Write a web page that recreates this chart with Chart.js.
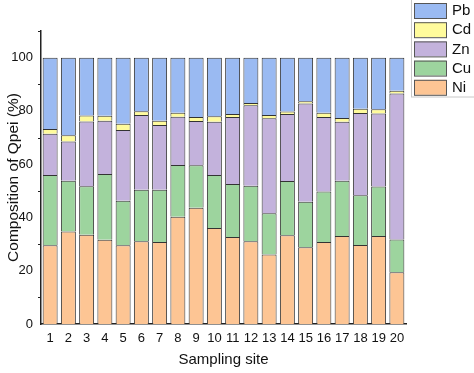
<!DOCTYPE html>
<html><head><meta charset="utf-8">
<script src="https://cdn.jsdelivr.net/npm/chart.js@4/dist/chart.umd.min.js"></script>
<style>html,body{margin:0;padding:0;background:#fff}#wrap{width:474px;height:373px;position:relative}</style>
</head><body><div id="wrap"><canvas id="c" width="474" height="373"></canvas></div>
<script>
const sites = ["1","2","3","4","5","6","7","8","9","10","11","12","13","14","15","16","17","18","19","20"];
const ni = [29.6,34.7,33.5,31.6,29.6,31.1,30.8,40.3,43.6,36.0,32.7,31.1,26.1,33.3,28.8,30.8,33.0,29.7,33.0,19.4];
const cu = [26.3,19.1,18.2,24.7,16.7,19.3,19.6,19.4,16.0,19.9,19.9,20.8,15.5,20.4,17.1,18.9,20.8,18.6,18.6,12.3];
const zn = [15.5,14.7,24.3,20.0,26.5,28.1,24.3,18.1,16.6,20.0,25.1,30.2,35.6,25.1,36.9,28.0,22.1,30.9,27.4,54.8];
const cd = [1.8,2.4,2.3,1.9,2.4,1.4,1.6,1.5,1.5,2.1,1.1,0.9,1.3,1.0,0.8,1.6,1.4,1.6,1.6,1.1];
const pb = [26.8,29.1,21.7,21.8,24.8,20.1,23.7,20.7,22.3,22.0,21.2,17.0,21.5,20.2,16.4,20.7,22.7,19.2,19.4,12.4];
const yTicks = [0,20,40,60,80,100];
const yMinorTicks = [10,30,50,70,90,110];

const FONT = "'Liberation Sans', Arial, sans-serif";
const mk = (label, data, color) => ({label, data, backgroundColor: color, borderColor: '#333', borderWidth: 1, borderSkipped: 'bottom', barPercentage: 0.82, categoryPercentage: 1});
const datasets = [
  mk('Ni', ni, '#FDC594'),
  mk('Cu', cu, '#9DD49E'),
  mk('Zn', zn, '#C3B2DC'),
  mk('Cd', cd, '#FFFB9C'),
  mk('Pb', pb, '#9ABAF2')
];

const extrasPlugin = {
  id: 'extras',
  afterDraw(chart) {
    const ctx = chart.ctx;
    ctx.save();
    // minor y ticks
    const ys = chart.scales.y;
    ctx.strokeStyle = '#222'; ctx.lineWidth = 1;
    yMinorTicks.forEach(v => {
      const p = Math.round(ys.getPixelForValue(v)) + 0.5;
      ctx.beginPath(); ctx.moveTo(ys.right - 3, p); ctx.lineTo(ys.right, p); ctx.stroke();
    });
    // legend
    ctx.strokeStyle = '#c8c8c8'; ctx.lineWidth = 1;
    ctx.strokeRect(411.5, -1, 70, 98);
    const order = [...chart.data.datasets].reverse();
    ctx.font = '15px ' + FONT;
    ctx.textBaseline = 'middle';
    order.forEach((ds, i) => {
      const y = 3 + i * 19.2;
      ctx.fillStyle = ds.backgroundColor;
      ctx.fillRect(414, y, 32, 15);
      ctx.strokeStyle = '#555';
      ctx.strokeRect(414.5, y + 0.5, 32, 15);
      ctx.fillStyle = '#111';
      ctx.fillText(ds.label, 452, y + 8);
    });
    ctx.restore();
  }
};

new Chart(document.getElementById('c'), {
  type: 'bar',
  data: { labels: sites, datasets },
  plugins: [extrasPlugin],
  options: {
    responsive: false, animation: false,
    layout: { padding: { left: 0, right: 68, top: 31, bottom: 0 } },
    plugins: { legend: { display: false }, tooltip: { enabled: false } },
    scales: {
      x: {
        stacked: true,
        grid: { display: false, drawTicks: true, tickLength: 5, tickColor: '#222' },
        border: { color: '#222', width: 1.5 },
        ticks: { color: '#111', font: { size: 13, family: FONT }, padding: 2, maxRotation: 0, autoSkip: false },
        title: { display: true, text: 'Sampling site', color: '#111', font: { size: 15, family: FONT }, padding: { top: 1 } },
        afterFit(s) { s.height = 49; }
      },
      y: {
        stacked: true, min: 0, max: 110,
        afterBuildTicks(s) { s.ticks = yTicks.map(v => ({value: v})); },
        grid: { display: false, drawTicks: true, tickLength: 5, tickColor: '#222' },
        border: { color: '#222', width: 1.5 },
        ticks: { color: '#111', font: { size: 13, family: FONT }, padding: 3 },
        title: { display: true, text: 'Composition of Qpei (%)', color: '#111', font: { size: 15.5, family: FONT }, padding: { bottom: 0 } },
        afterFit(s) { s.width = 41; }
      }
    }
  }
});
</script></body></html>
